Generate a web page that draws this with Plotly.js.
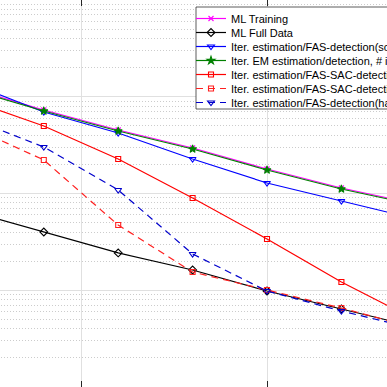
<!DOCTYPE html>
<html><head><meta charset="utf-8">
<script src="https://cdn.plot.ly/plotly-3.0.1.min.js"></script>
<style>
html,body{margin:0;padding:0;overflow:hidden;width:387px;height:387px;background:#fff}
#chart{position:absolute;left:-50px;top:0;width:600px;height:387px}
</style></head>
<body><div id="chart"></div>
<script>
// SNR (dB) values
const snr = [7, 9, 11, 13, 15, 17, 19];
// BER series
const berMLTraining   = [0.01231, 0.007295, 0.004531, 0.002954, 0.001791, 0.001140, 0.000779];
const berMLFull       = [0.000659, 0.000400, 0.000243, 0.0001620, 0.0000982, 0.0000640, 0.0000417];
const berFASsoft      = [0.01387, 0.006957, 0.004220, 0.002273, 0.001284, 0.000837, 0.000545];
const berEM           = [0.01202, 0.007124, 0.004426, 0.002884, 0.001749, 0.001113, 0.000760];
const berSACsoft      = [0.009256, 0.004985, 0.002273, 0.000899, 0.000339, 0.0001217, 0.0000493];
const berSAChard      = [0.004985, 0.002220, 0.000472, 0.0001543, 0.0001006, 0.0000655, 0.0000407];
const berFAShard      = [0.006033, 0.003024, 0.001087, 0.000237, 0.0000982, 0.0000610, 0.0000398];
const seriesNames = [
  "ML Training",
  "ML Full Data",
  "Iter. estimation/FAS-detection(soft)",
  "Iter. EM estimation/detection, # iter. = 10",
  "Iter. estimation/FAS-SAC-detection(soft)",
  "Iter. estimation/FAS-SAC-detection(hard)",
  "Iter. estimation/FAS-detection(hard)"
];
const seriesData = [berMLTraining, berMLFull, berFASsoft, berEM, berSACsoft, berSAChard, berFAShard];

const styles = [
  {color:'#ff00ff', dash:'solid', symbol:'x-thin-open', size:5},
  {color:'#000000', dash:'solid', symbol:'diamond-open', size:6},
  {color:'#0000ff', dash:'solid', symbol:'triangle-down-open', size:6},
  {color:'#008000', dash:'solid', symbol:'star', size:6},
  {color:'#ff0000', dash:'solid', symbol:'square-open', size:5},
  {color:'#ff2020', dash:'7px,5px', symbol:'square-open', size:5},
  {color:'#0000cc', dash:'7px,5px', symbol:'triangle-down-open', size:6}
];

// window-pixel helpers for layout placement
const DIV_LEFT = -50, W = 600, H = 387;
const px = x => (x - DIV_LEFT) / W;
const py = y => 1 - y / H;

const traces = seriesData.map((d, i) => ({
  x: snr, y: d, name: seriesNames[i], type:'scatter', mode:'lines+markers',
  line:{color:styles[i].color, width:1.2, dash:styles[i].dash},
  marker:{symbol:styles[i].symbol, size:styles[i].size, color:styles[i].color,
          line:{color:styles[i].color, width:1.1}},
  legend: i === 0 ? 'legend' : 'legend' + (i + 1)
}));

const legendCenters = [17, 31, 45, 59, 73, 87, 101];
const layout = {
  width: W, height: H,
  margin:{l:0, r:0, t:0, b:0, pad:0},
  paper_bgcolor:'#ffffff', plot_bgcolor:'#ffffff',
  font:{family:'Liberation Sans, Arial, sans-serif', size:11, color:'#000'},
  xaxis:{
    range:[10 - (81 - DIV_LEFT)/37.2, 10 + (W + DIV_LEFT - 81)/37.2],
    tick0:0, dtick:5, showticklabels:false,
    showgrid:true, gridcolor:'#e0e0e0', gridwidth:1,
    zeroline:false, ticks:'inside', ticklen:6, tickcolor:'#262626',
    showline:true, linecolor:'#262626', mirror:'ticks'
  },
  yaxis:{
    type:'log', range:[-5, -1], dtick:1, showticklabels:false,
    showgrid:true, gridcolor:'#e0e0e0', gridwidth:1,
    zeroline:false, ticks:'inside', ticklen:6, tickcolor:'#262626',
    showline:true, linecolor:'#262626', mirror:'ticks',
    minor:{showgrid:true, dtick:'D1', gridcolor:'#cccccc', griddash:'1px,2px', gridwidth:1, ticks:''}
  },
  shapes:[{
    type:'rect', xref:'paper', yref:'paper', layer:'above',
    x0:px(196), x1:px(700), y0:py(109), y1:py(7),
    fillcolor:'#ffffff', line:{color:'#333333', width:0.8}
  }],
  showlegend:true
};
legendCenters.forEach((c, k) => {
  const key = k === 0 ? 'legend' : 'legend' + (k + 1);
  layout[key] = {
    x: px(191), xanchor:'left', y: py(c - 13), yanchor:'top',
    bgcolor:'rgba(0,0,0,0)', borderwidth:0,
    font:{family:'Liberation Sans, Arial, sans-serif', size:11, color:'#000'}
  };
});

Plotly.newPlot('chart', traces, layout, {displayModeBar:false, staticPlot:true});
</script>
</body></html>
